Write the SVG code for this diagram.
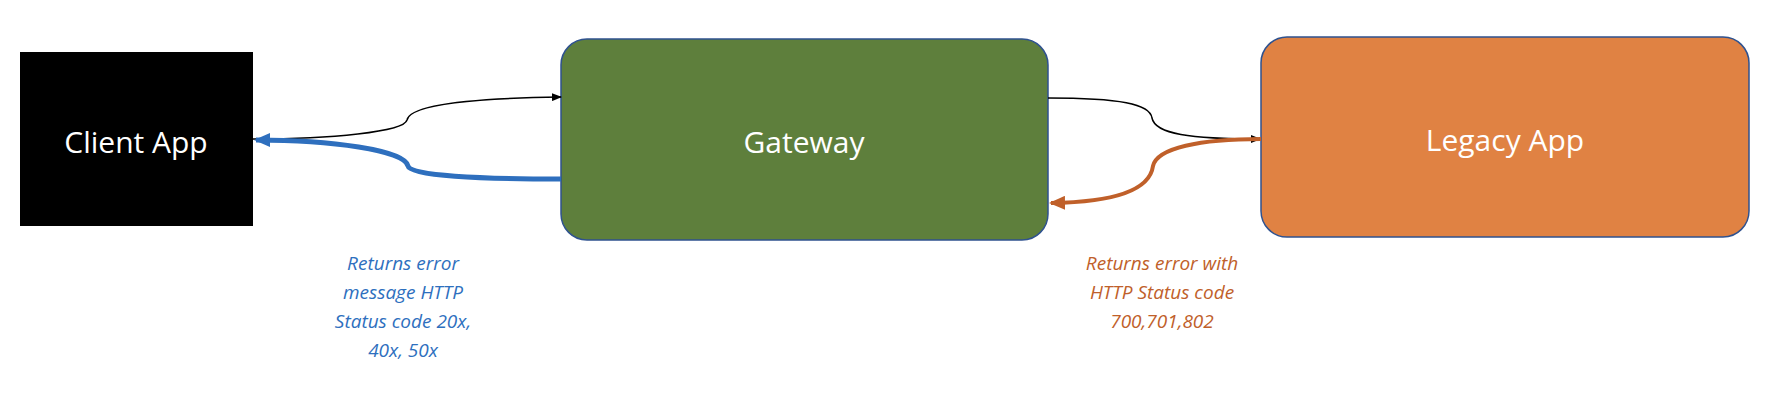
<svg xmlns="http://www.w3.org/2000/svg" width="1772" height="420" viewBox="0 0 1772 420">
<style>
.lbl{font-family:"Open Sans","Liberation Sans",sans-serif;font-size:30px;fill:#fff;text-anchor:middle;dominant-baseline:central}
.note{font-family:"Open Sans","Liberation Sans",sans-serif;font-size:19px;font-style:italic;text-anchor:middle}
</style>
<defs>
<marker id="ab" markerWidth="10" markerHeight="8" refX="9" refY="4" orient="auto" markerUnits="userSpaceOnUse"><path d="M0,0L10,4L0,8z" fill="#000"/></marker>
<marker id="abl" markerWidth="16" markerHeight="14" refX="14" refY="7" orient="auto" markerUnits="userSpaceOnUse"><path d="M0,0L16,7L0,14z" fill="#2e6fbe"/></marker>
<marker id="aor" markerWidth="16" markerHeight="14" refX="14" refY="7" orient="auto" markerUnits="userSpaceOnUse"><path d="M0,0L16,7L0,14z" fill="#c0602a"/></marker>
</defs>
<g id="client"><rect x="20" y="52" width="233" height="174" fill="#000"/><text class="lbl" x="136" y="141">Client App</text></g>
<g id="gateway"><rect x="561" y="39" width="487" height="201" rx="26" fill="#5e7f3c" stroke="#2f528f" stroke-width="1.5"/><text class="lbl" x="804" y="141">Gateway</text></g>
<g id="legacy"><rect x="1261" y="37" width="488" height="200" rx="26" fill="#e08243" stroke="#2f528f" stroke-width="1.5"/><text class="lbl" x="1505" y="139">Legacy App</text></g>
<g id="connectors" fill="none">
<path d="M253,139 C330,139 404,132 407,120 C410,104 480,98 561,97" stroke="#000" stroke-width="1.5" marker-end="url(#ab)"/>
<path d="M561,179 C480,179 410,176 408,166 C405,150 330,140 256,140" stroke="#2e6fbe" stroke-width="5" marker-end="url(#abl)"/>
<path d="M1048,98 C1120,98 1150,104 1152,118 C1155,134 1190,139 1260,139" stroke="#000" stroke-width="1.5" marker-end="url(#ab)"/>
<path d="M1261,139 C1200,139 1157,148 1153,166 C1150,188 1120,202 1051,203" stroke="#c0602a" stroke-width="4" marker-end="url(#aor)"/>
</g>
<g fill="#2e6fbe"><text class="note" x="403" y="270">Returns error</text><text class="note" x="403" y="299">message HTTP</text><text class="note" x="403" y="328">Status code 20x,</text><text class="note" x="403" y="357">40x, 50x</text></g>
<g fill="#c0602a"><text class="note" x="1162" y="270">Returns error with</text><text class="note" x="1162" y="299">HTTP Status code</text><text class="note" x="1162" y="328">700,701,802</text></g>
</svg>
